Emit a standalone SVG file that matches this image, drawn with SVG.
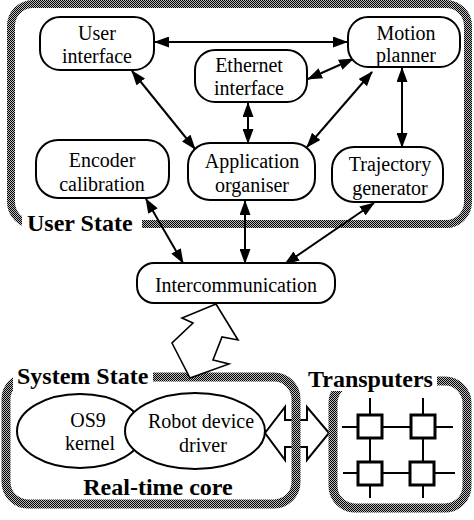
<svg xmlns="http://www.w3.org/2000/svg" width="474" height="520" viewBox="0 0 474 520">
<style>
.node{fill:#fff;stroke:#000;stroke-width:2}
.t{font-family:"Liberation Serif","Times New Roman",serif;font-size:20px;fill:#000;text-anchor:middle}
.lbl{font-family:"Liberation Serif","Times New Roman",serif;font-size:24px;font-weight:bold;fill:#000}
.frame{fill:none;stroke:url(#hatch)}
.conn line{stroke:#000;stroke-width:2;marker-start:url(#ah);marker-end:url(#ah)}
.grid line{stroke:#000;stroke-width:2}
.chip{fill:#fff;stroke:#000;stroke-width:3}
</style>
<defs>
<pattern id="hatch" width="2" height="2" patternUnits="userSpaceOnUse">
<rect width="2" height="2" fill="#bbb"/>
<rect width="1" height="1" fill="#000"/>
<rect x="1" y="1" width="1" height="1" fill="#000"/>
</pattern>
<marker id="ah" viewBox="0 0 15 11" refX="14" refY="5.5" markerWidth="15" markerHeight="11" markerUnits="userSpaceOnUse" orient="auto-start-reverse">
<path d="M0,0 L15,5.5 L0,11 z" fill="#000"/>
</marker>
</defs>
<rect width="474" height="520" fill="#fff"/>

<!-- User State frame -->
<g id="user-state">
<rect class="frame" x="11" y="4" width="457" height="220" rx="22" stroke-width="8"/>
<rect x="22" y="210" width="120" height="26" fill="#fff"/>
<text class="lbl" x="27" y="231">User State</text>
</g>

<!-- Block double arrow between System State and Transputers -->
<g id="bus-arrow">
<polygon points="265,433 285,407 285,420 307,420 307,407 329,433 307,460 307,447 285,447 285,460" fill="#fff" stroke="#000" stroke-width="2" stroke-linejoin="miter"/>
</g>

<!-- System State frame -->
<g id="system-state">
<rect class="frame" x="6" y="377" width="290" height="127" rx="22" stroke-width="9"/>
<rect x="13" y="362" width="140" height="28" fill="#fff"/>
<text class="lbl" x="17" y="384">System State</text>
<text class="lbl" x="158" y="495" text-anchor="middle">Real-time core</text>
</g>

<g id="os9-kernel">
<ellipse cx="80" cy="431" rx="63" ry="37" fill="#fff" stroke="#000" stroke-width="2"/>
<text class="t" x="88" y="427">OS9</text>
<text class="t" x="90" y="450">kernel</text>
</g>
<g id="robot-device-driver">
<ellipse cx="195" cy="431" rx="70" ry="38" fill="#fff" stroke="#000" stroke-width="2"/>
<text class="t" x="201" y="428">Robot device</text>
<text class="t" x="203" y="452">driver</text>
</g>

<!-- Transputers frame -->
<g id="transputers">
<rect class="frame" x="333" y="381" width="134" height="127" rx="22" stroke-width="9"/>
<rect x="304" y="364" width="133" height="27" fill="#fff"/>
<text class="lbl" x="308" y="387">Transputers</text>
<g class="grid">
<line x1="370" y1="398" x2="370" y2="498"/>
<line x1="423" y1="398" x2="423" y2="498"/>
<line x1="342" y1="427" x2="453" y2="427"/>
<line x1="343" y1="473" x2="455" y2="473"/>
</g>
<rect class="chip" x="358" y="415" width="24" height="23"/>
<rect class="chip" x="411" y="415" width="24" height="23"/>
<rect class="chip" x="358" y="462" width="24" height="23"/>
<rect class="chip" x="410" y="462" width="24" height="23"/>
</g>

<!-- Lightning link -->
<g id="link">
<polygon points="216,304 238,340 222,337 213,360 229,364 190,378 172,343 193,323 182,318" fill="#fff" stroke="#000" stroke-width="1.6" stroke-linejoin="miter"/>
</g>

<!-- Connectors -->
<g id="connectors" class="conn">
<line x1="155" y1="42" x2="347" y2="42"/>
<line x1="132" y1="71" x2="195" y2="149"/>
<line x1="308" y1="79" x2="353" y2="59"/>
<line x1="248" y1="103" x2="248" y2="143"/>
<line x1="307" y1="147" x2="372" y2="72"/>
<line x1="402" y1="68" x2="402" y2="147"/>
<line x1="146" y1="199" x2="183" y2="263"/>
<line x1="245" y1="201" x2="245" y2="263"/>
<line x1="374" y1="203" x2="285" y2="264"/>
</g>

<!-- Nodes -->
<g id="user-interface">
<rect class="node" x="40" y="17" width="114" height="53" rx="20"/>
<text class="t" x="97" y="40">User</text>
<text class="t" x="97" y="63">interface</text>
</g>
<g id="motion-planner">
<rect class="node" x="348" y="17" width="112" height="50" rx="20"/>
<text class="t" x="406" y="40">Motion</text>
<text class="t" x="406" y="62">planner</text>
</g>
<g id="ethernet-interface">
<rect class="node" x="195" y="50" width="112" height="52" rx="20"/>
<text class="t" x="249" y="72">Ethernet</text>
<text class="t" x="249" y="95">interface</text>
</g>
<g id="encoder-calibration">
<rect class="node" x="36" y="140" width="133" height="58" rx="22"/>
<text class="t" x="102" y="167">Encoder</text>
<text class="t" x="102" y="191">calibration</text>
</g>
<g id="application-organiser">
<rect class="node" x="188" y="143" width="127" height="57" rx="22"/>
<text class="t" x="252" y="168">Application</text>
<text class="t" x="252" y="192">organiser</text>
</g>
<g id="trajectory-generator">
<rect class="node" x="332" y="147" width="111" height="55" rx="22"/>
<text class="t" x="390" y="171">Trajectory</text>
<text class="t" x="390" y="195">generator</text>
</g>
<g id="intercommunication">
<rect class="node" x="137" y="263" width="198" height="40" rx="17"/>
<text class="t" x="236" y="292">Intercommunication</text>
</g>
</svg>
